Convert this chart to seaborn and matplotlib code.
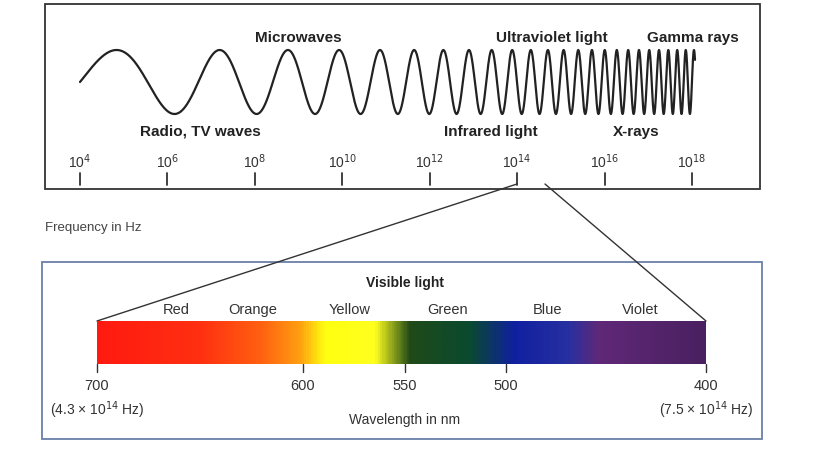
import numpy as np
import matplotlib
matplotlib.use("Agg")
import matplotlib.pyplot as plt
from matplotlib.colors import LinearSegmentedColormap
from matplotlib.patches import Rectangle
import seaborn as sns

freq_exponents = [4, 6, 8, 10, 12, 14, 16, 18]
band_labels_top = ["Microwaves", "Ultraviolet light", "Gamma rays"]
band_labels_bottom = ["Radio, TV waves", "Infrared light", "X-rays"]
color_names = ["Red", "Orange", "Yellow", "Green", "Blue", "Violet"]
wavelength_ticks = [700, 600, 550, 500, 400]
edge_hz = ["(4.3 × 10$^{14}$ Hz)", "(7.5 × 10$^{14}$ Hz)"]

sns.set_theme(style="white")
plt.rcParams['font.family'] = ['Liberation Sans', 'DejaVu Sans']
fig = plt.figure(figsize=(8.19, 4.60), dpi=100)
ax = fig.add_axes([0, 0, 1, 1])
ax.set_xlim(0, 819); ax.set_ylim(460, 0); ax.axis("off")

ax.add_patch(Rectangle((45, 5), 715, 185, fill=False, ec="#333333", lw=1.3))
ax.add_patch(Rectangle((42, 263), 720, 177, fill=False, ec="#6a7fa8", lw=1.3))

x = np.linspace(80, 695, 4000)
k = np.log(20) / 615
c = (2 * np.pi / 160) / k
phase = c * (np.exp(k * (x - 80)) - 1)
y = 83 - 32 * np.sin(phase)
sns.lineplot(x=x, y=y, ax=ax, color="#222222", lw=1.6, sort=False, estimator=None)

fx = np.linspace(80, 692, len(freq_exponents))
for xx, e in zip(fx, freq_exponents):
    ax.plot([xx, xx], [174, 186], color="#333", lw=1.3)
    ax.text(xx, 162, f"10$^{{{e}}}$", ha="center", va="center", fontsize=10, color="#333")

for t, xx in zip(band_labels_top, [298, 552, 693]):
    ax.text(xx, 38, t, ha="center", va="center", fontsize=11, fontweight="bold", color="#222")
for t, xx in zip(band_labels_bottom, [200, 491, 636]):
    ax.text(xx, 132, t, ha="center", va="center", fontsize=11, fontweight="bold", color="#222")
ax.text(45, 228, "Frequency in Hz", ha="left", va="center", fontsize=9.5, color="#444")

ax.plot([517, 97], [185, 322], color="#333", lw=1)
ax.plot([545, 706], [185, 322], color="#333", lw=1)

stops = [(97, "#ff1a10"), (200, "#ff3010"), (260, "#ff6010"), (300, "#ffa010"),
         (325, "#ffff10"), (375, "#ffff20"), (410, "#204a18"), (470, "#0a4a30"),
         (515, "#1020a0"), (570, "#2830a0"), (600, "#602878"), (706, "#4a2060")]
pos = [(p - 97) / (706 - 97) for p, _ in stops]
cmap = LinearSegmentedColormap.from_list("vis", list(zip(pos, [s for _, s in stops])))
ax.imshow(np.linspace(0, 1, 600)[None, :], cmap=cmap, aspect="auto",
          extent=(97, 706, 365, 322), zorder=2)
ax.text(405, 283, "Visible light", ha="center", va="center", fontsize=10, fontweight="bold", color="#222")
for t, xx in zip(color_names, [176, 253, 350, 448, 548, 640]):
    ax.text(xx, 310, t, ha="center", va="center", fontsize=10.5, color="#333")

wl_x = {700: 97, 600: 303, 550: 405, 500: 506, 400: 706}
for w in wavelength_ticks:
    xx = wl_x[w]
    ax.plot([xx, xx], [365, 373], color="#333", lw=1)
    ax.text(xx, 386, str(w), ha="center", va="center", fontsize=10.5, color="#333")
ax.text(97, 410, edge_hz[0], ha="center", va="center", fontsize=10, color="#333")
ax.text(706, 410, edge_hz[1], ha="center", va="center", fontsize=10, color="#333")
ax.text(405, 420, "Wavelength in nm", ha="center", va="center", fontsize=10, color="#333")

fig.savefig("out.png", dpi=100)
